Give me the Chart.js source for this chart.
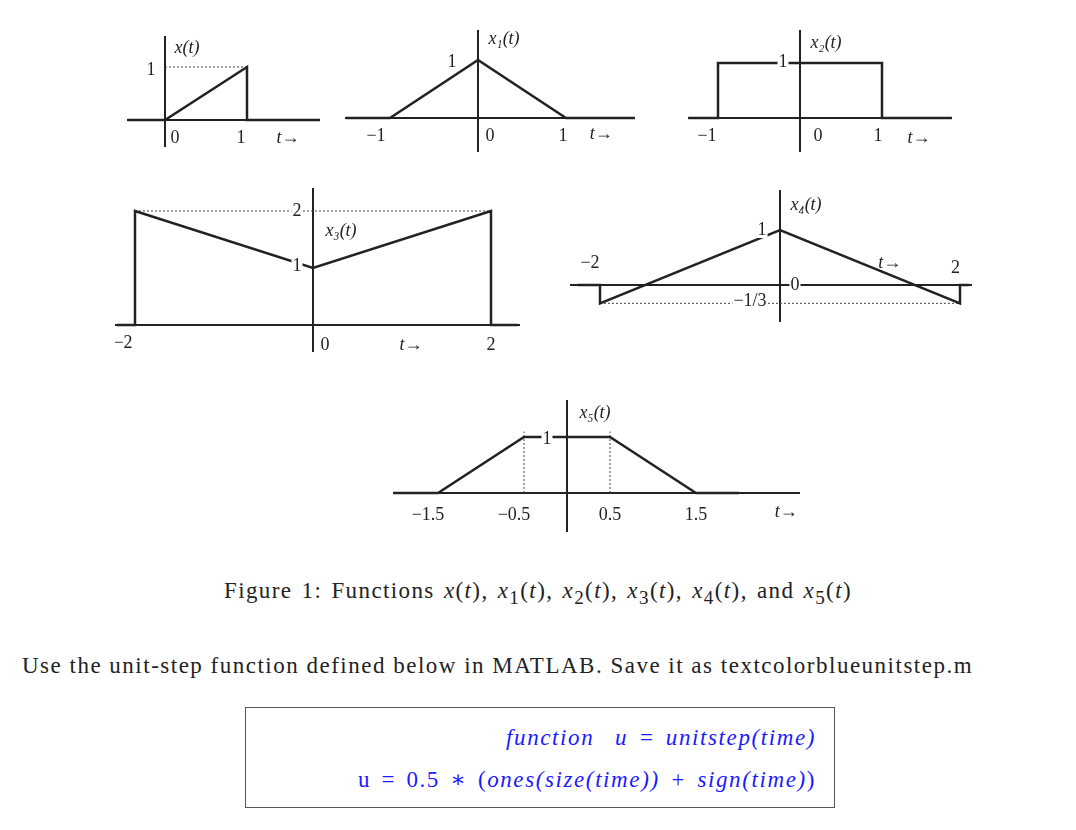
<!DOCTYPE html>
<html><head><meta charset="utf-8">
<script src="https://cdn.jsdelivr.net/npm/chart.js@4"></script>
<style>
body{margin:0;background:#fff;width:1076px;height:830px;position:relative;overflow:hidden;font-family:'Liberation Serif','DejaVu Serif',serif;color:#222}
canvas{position:absolute}
.cap{position:absolute;top:578px;left:0;width:1076px;text-align:center;font-size:23px;letter-spacing:1.4px;word-spacing:2px}
.par{position:absolute;top:653px;left:22px;font-size:23px;letter-spacing:1.5px}
.box{position:absolute;left:245px;top:707px;width:590px;height:101px;border:1px solid #555;box-sizing:border-box}
.l1,.l2{position:absolute;right:18px;color:#1a1aff;font-size:23px;font-style:italic;letter-spacing:1.6px;word-spacing:3px}
.l1{top:17px}.l2{top:58px}
i{font-style:italic}
</style></head><body>
<div class="cap">Figure 1: Functions <i>x</i>(<i>t</i>), <i>x</i><sub>1</sub>(<i>t</i>), <i>x</i><sub>2</sub>(<i>t</i>), <i>x</i><sub>3</sub>(<i>t</i>), <i>x</i><sub>4</sub>(<i>t</i>), and <i>x</i><sub>5</sub>(<i>t</i>)</div>
<div class="par">Use the unit-step function defined below in MATLAB. Save it as textcolorblueunitstep.m</div>
<div class="box"><div class="l1">function &nbsp;u = unitstep(time)</div><div class="l2"><span style="font-style:normal">u = 0.5 ∗ (</span>ones(size(time)) + sign(time)<span style="font-style:normal">)</span></div></div>
<script>
// signal shapes, [t, value]
const xT  = [[-0.46,0],[0,0],[1,1],[1,0],[1.89,0]];
const x1T = [[-1.5,0],[-1,0],[0,1],[1,0],[1.8,0]];
const x2T = [[-1.36,0],[-1,0],[-1,1],[1,1],[1,0],[1.85,0]];
const x3T = [[-2.2,0],[-2,0],[-2,2],[0,1],[2,2],[2,0],[2.3,0]];
const x4T = [[-2.25,0],[-2,0],[-2,-1/3],[0,1],[2,-1/3],[2,0],[2.1,0]];
const x5T = [[-2.02,0],[-1.5,0],[-0.5,1],[0.5,1],[1.5,0],[2.0,0]];

// dotted guide lines
const xGuide  = [[[0,1],[1,1]]];
const x3Guide = [[[-2,2],[2,2]]];
const x4Guide = [[[-2,-1/3],[2,-1/3]]];
const x5Guide = [[[-0.5,0],[-0.5,1.1]],[[0.5,0],[0.5,1.1]]];

// text labels: [t, value, text, dx, dy]
const xLabels  = [[0,1,'1',-14,3],[0,0,'0',10,18],[1,0,'1',-6,18],[1.5,0,'t→',0,18],[0,1.35,'x(t)',22,0]];
const x1Labels = [[0,1,'1',-26,2],[-1,0,'−1',-14,18],[0,0,'0',12,18],[1,0,'1',-3,18],[1.4,0,'t→',0,16],[0,1.35,'x₁(t)',26,0]];
const x2Labels = [[0,1,'1',-17,-1],[-1,0,'−1',-11,18],[0,0,'0',18,18],[1,0,'1',-4,18],[1.45,0,'t→',0,20],[0,1.35,'x₂(t)',26,0]];
const x3Labels = [[0,2,'2',-16,0],[0,1,'1',-16,-2],[0,1.65,'x₃(t)',28,0],[-2,0,'−2',-12,18],[0,0,'0',12,20],[1.1,0,'t→',0,20],[2,0,'2',0,20]];
const x4Labels = [[0,1.45,'x₄(t)',26,0],[0,1,'1',-18,0],[-2,0,'−2',-10,-22],[0,0,'0',15,0],[0,-1/3,'−1/3',-30,-2],[1.22,0.4,'t→',0,0],[1.95,0.4,'2',0,5]];
const x5Labels = [[0,1.43,'x₅(t)',28,0],[0,1,'1',-20,2],[-1.5,0,'−1.5',-10,22],[-0.5,0,'−0.5',-10,22],[0.5,0,'0.5',0,22],[1.5,0,'1.5',0,22],[2.55,0,'t→',0,19]];

const ink = '#222';
const pts = a => a.map(p => ({x:p[0], y:p[1]}));

function makePlot(ox, oy, ux, uy, box, shape, guides, labels) {
    const [l, t, r, b] = box;
    const c = document.createElement('canvas');
    c.width = r - l; c.height = b - t;
    c.style.left = l + 'px'; c.style.top = t + 'px';
    document.body.appendChild(c);
    const datasets = [{data: pts(shape), borderColor: ink, borderWidth: 2.5, pointRadius: 0, clip: false}];
    guides.forEach(g => datasets.push({data: pts(g), borderColor: '#444', borderWidth: 1, borderDash: [2, 2], pointRadius: 0}));
    new Chart(c, {
        type: 'line',
        data: {datasets},
        options: {
            responsive: false, animation: false, events: [],
            layout: {padding: 0},
            plugins: {legend: {display: false}, tooltip: {enabled: false}},
            scales: {
                x: {type: 'linear', display: false, min: (l - ox) / ux, max: (r - ox) / ux},
                y: {type: 'linear', display: false, min: (oy - b) / uy, max: (oy - t) / uy}
            }
        },
        plugins: [{
            id: 'axes',
            beforeDatasetsDraw(ch) {
                const {ctx, scales: {x, y}} = ch;
                ctx.save();
                ctx.strokeStyle = ink; ctx.lineWidth = 2;
                ctx.beginPath();
                ctx.moveTo(0, y.getPixelForValue(0)); ctx.lineTo(c.width, y.getPixelForValue(0));
                ctx.moveTo(x.getPixelForValue(0), 0); ctx.lineTo(x.getPixelForValue(0), c.height);
                ctx.stroke();
                ctx.restore();
            },
            afterDatasetsDraw(ch) {
                const {ctx, scales: {x, y}} = ch;
                ctx.save();
                ctx.textAlign = 'center'; ctx.textBaseline = 'middle';
                labels.forEach(([tv, v, s, dx, dy]) => {
                    const px = x.getPixelForValue(tv) + dx, py = y.getPixelForValue(v) + dy;
                    ctx.font = /t\)|t→/.test(s) ? 'italic 18px "Liberation Serif", serif' : '18px "Liberation Serif", serif';
                    const w = ctx.measureText(s).width;
                    if (/^[0-9−]/.test(s) && dy > -5 && dy < 5) {
                        ctx.fillStyle = '#fff'; ctx.fillRect(px - w / 2 - 1, py - 8, w + 2, 16);
                    }
                    ctx.fillStyle = ink;
                    ctx.fillText(s, px, py);
                });
                ctx.restore();
            }
        }]
    });
}

makePlot(165, 120, 82, 53, [127, 36, 320, 147], xT, xGuide, xLabels);
makePlot(478, 118, 88, 58, [345, 30, 635, 152], x1T, [], x1Labels);
makePlot(800, 118, 82, 55, [688, 30, 952, 152], x2T, [], x2Labels);
makePlot(313, 325, 89, 57, [115, 188, 520, 352], x3T, x3Guide, x3Labels);
makePlot(780, 285, 90, 55, [570, 190, 972, 322], x4T, x4Guide, x4Labels);
makePlot(567, 493, 86, 56, [393, 400, 800, 532], x5T, x5Guide, x5Labels);
</script>
</body></html>
